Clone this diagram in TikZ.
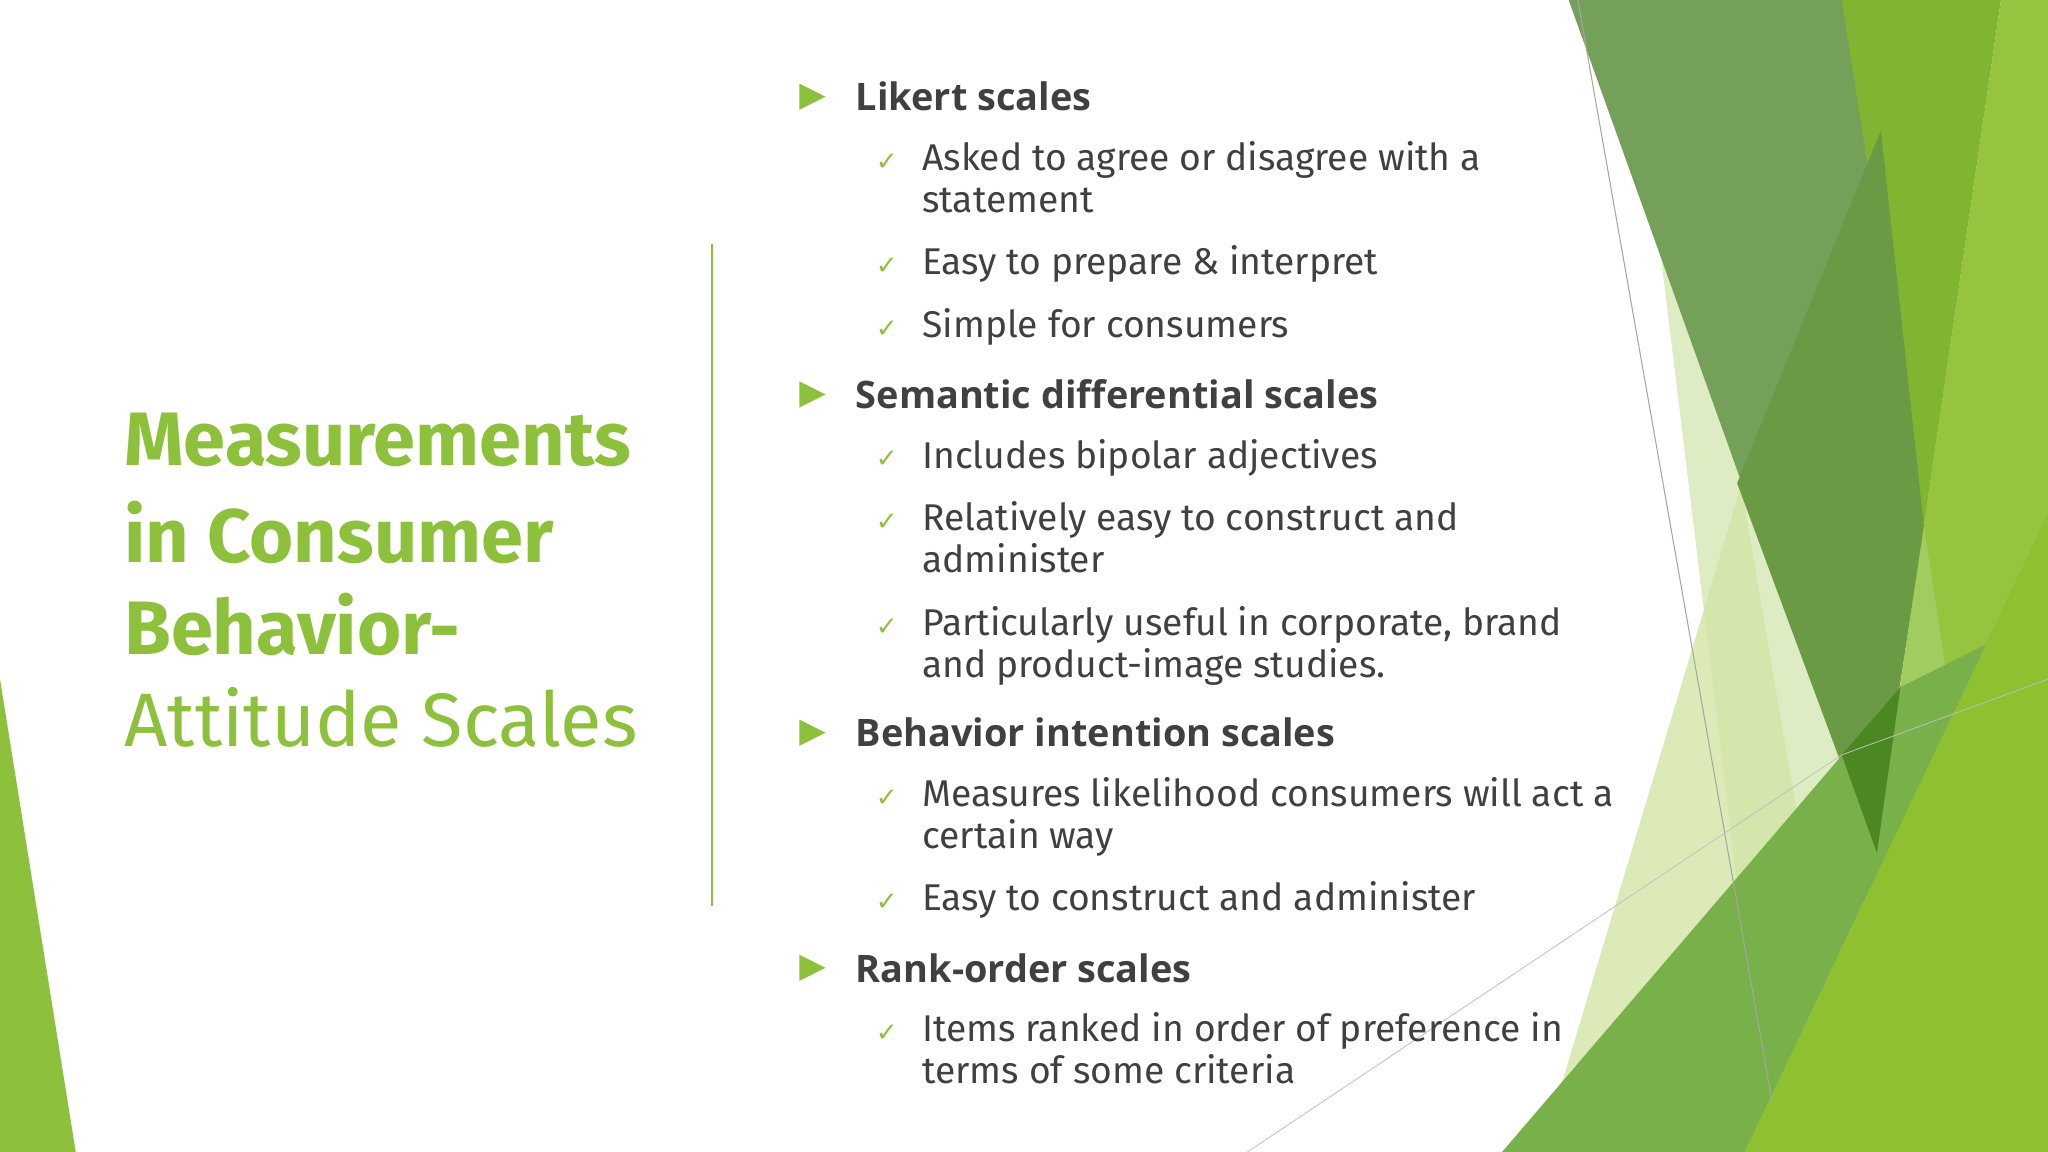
\documentclass[tikz,border=0pt]{standalone}
\usepackage{fontspec}
\setmainfont{Fira Sans}
\newfontfamily\headfont{Open Sans}
\newfontfamily\symfont{DejaVu Sans}
\definecolor{lime}{HTML}{8DC13B}
\definecolor{txt}{HTML}{404040}
\begin{document}
\begin{tikzpicture}[x=1pt,y=-1pt,
  head/.style={anchor=west,inner sep=0pt,font=\headfont\fontsize{29}{32}\selectfont\bfseries,text=txt},
  item/.style={anchor=north west,align=left,font=\fontsize{28.5}{32}\selectfont,text=txt,inner sep=0pt},
  ttl/.style={anchor=west,font=\fontsize{58}{60}\selectfont\bfseries,text=lime,inner sep=0pt},
  chk/.style={anchor=center,font=\symfont\fontsize{20}{20}\selectfont,text=lime}]
\useasboundingbox (0,0) rectangle (1568,882);
\fill[white] (0,0) rectangle (1568,882);
% decorative facets
\fill[lime] (0,520) -- (0,882) -- (58,882) -- cycle;
\fill[fill={rgb,255:red,222;green,236;blue,196}] (1271,191) -- (1435,653) -- (1355,882) -- cycle;
\fill[fill={rgb,255:red,210;green,229;blue,165},opacity=0.8] (1333,372) -- (1180,882) -- (1420,882) -- cycle;
\fill[fill={rgb,255:red,128;green,180;blue,49}] (1406,0) -- (1532,0) -- (1473,403) -- cycle;
\fill[fill={rgb,255:red,150;green,196;blue,62}] (1532,0) -- (1568,0) -- (1568,882) -- (1380,882) -- (1427,715) -- cycle;
\fill[fill={rgb,255:red,116;green,160;blue,90}] (1201,0) -- (1410,0) -- (1473,403) -- (1435,653) -- cycle;
\fill[fill={rgb,255:red,106;green,154;blue,68}] (1440,100) -- (1473,403) -- (1435,653) -- (1330,370) -- cycle;
\fill[fill={rgb,255:red,160;green,204;blue,96}] (1473,403) -- (1500,580) -- (1427,715) -- cycle;
\fill[fill={rgb,255:red,120;green,176;blue,74}] (1150,882) -- (1455,526) -- (1568,470) -- (1568,394) -- (1336,882) -- cycle;
\fill[fill={rgb,255:red,76;green,136;blue,34}] (1410,578) -- (1455,526) -- (1437,653) -- cycle;
\fill[fill={rgb,255:red,142;green,192;blue,48}] (1336,882) -- (1568,394) -- (1568,882) -- cycle;
\draw[gray!70,line width=0.8pt] (1208,0) -- (1357,845);
\draw[gray!50,line width=0.6pt] (955,882) -- (1410,578) -- (1568,520);
% divider
\draw[lime,line width=1.5pt] (545,187) -- (545,694);
% title
\node[ttl] (t1) at (95,337) {Measurements};
\node[ttl] (t2) at (95,408) {in Consumer};
\node[ttl] (t3) at (95,478) {Behavior-};
\node[ttl,font=\fontsize{58}{60}\selectfont] (t4) at (95,549) {Attitude Scales};
% headings
\foreach \n/\y/\t in {h1/74/Likert scales,h2/302/Semantic differential scales,h3/561/Behavior intention scales,h4/741/Rank-order scales}{
  \fill[lime] (612,\y-10) -- (632,\y) -- (612,\y+10) -- cycle;
  \node[head] (\n) at (655,\y) {\t};
}
% items
\foreach \n/\y/\t in {
 a1/124/{Asked to agree or disagree with a\\statement},
 a2/204/{Easy to prepare \& interpret},
 a3/252/{Simple for consumers},
 b1/352/{Includes bipolar adjectives},
 b2/400/{Relatively easy to construct and\\administer},
 b3/480/{Particularly useful in corporate, brand\\and product-image studies.},
 c1/611/{Measures likelihood consumers will act a\\certain way},
 c2/691/{Easy to construct and administer},
 d1/791/{Items ranked in order of preference in\\terms of some criteria}}{
  \node[chk] (k\n) at (679,\y) {✓};
  \node[item] (\n) at (706,\y-16) {\t};
}
\end{tikzpicture}
\end{document}
